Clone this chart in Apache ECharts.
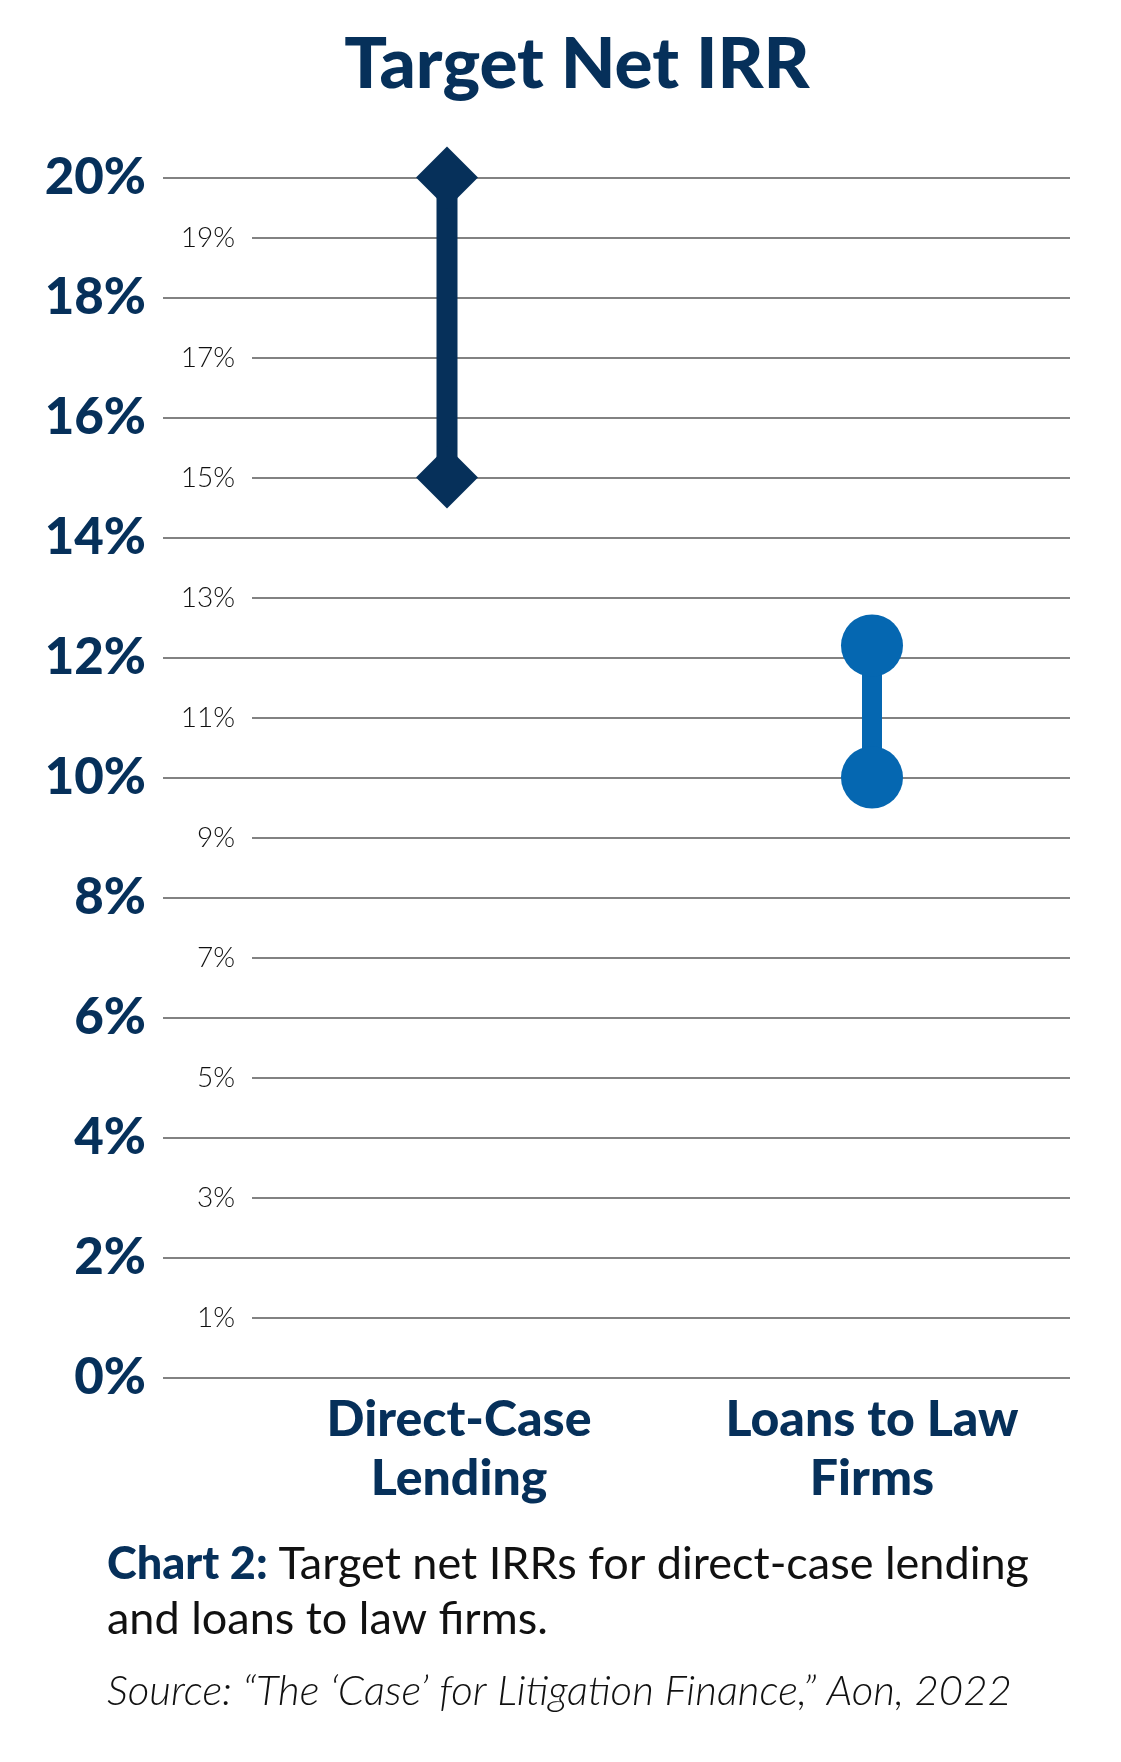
<!DOCTYPE html>
<html>
<head>
<meta charset="utf-8">
<script src="https://cdn.jsdelivr.net/npm/echarts@6/dist/echarts.min.js"></script>
<style>
  html, body { margin: 0; padding: 0; background: #fff; }
  #chart { width: 1121px; height: 1762px; }
</style>
</head>
<body>
<div id="chart"></div>
<script>
// data
const categories = ["Direct-Case\nLending", "Loans to Law\nFirms"];
const directCaseRange = [15, 20];
const lawFirmRange = [10, 12.2];
const majorTicks = [0, 2, 4, 6, 8, 10, 12, 14, 16, 18, 20];
const minorTicks = [1, 3, 5, 7, 9, 11, 13, 15, 17, 19];

const navy = "#06305a";
const blue = "#0567b1";
const gridGray = "#828282";
const font = "Lato";

const chart = echarts.init(document.getElementById("chart"));

const plotTop = 177.5;
const plotBottom = 1762 - 1377.5;

const option = {
  animation: false,
  backgroundColor: "#fff",
  title: {
    text: "Target Net IRR",
    left: 572,
    top: 25,
    textAlign: "center",
    textStyle: {
      fontFamily: font,
      fontWeight: 900,
      fontSize: 71,
      color: navy,
    },
  },
  grid: [
    // major lines (even %)
    { left: 163, right: 51, top: plotTop, bottom: plotBottom },
    // minor lines (odd %)
    { left: 252, right: 51, top: plotTop, bottom: plotBottom },
    // the ranges
    { left: 234.5, right: 36.5, top: plotTop, bottom: plotBottom },
  ],
  xAxis: [
    { gridIndex: 0, type: "value", show: false },
    { gridIndex: 1, type: "value", show: false },
    {
      gridIndex: 2,
      type: "category",
      data: categories.map((c, i) =>
        i === 0 ? { value: c, textStyle: { padding: [0, 0, 0, 24] } } : c
      ),
      axisLine: { show: false },
      axisTick: { show: false },
      axisLabel: {
        interval: 0,
        margin: 13,
        fontFamily: font,
        fontWeight: 900,
        fontSize: 50,
        lineHeight: 59,
        color: navy,
      },
    },
  ],
  yAxis: [
    {
      gridIndex: 0,
      type: "value",
      min: 0,
      max: 20,
      interval: 2,
      axisLine: { show: false },
      axisTick: { show: false },
      axisLabel: {
        margin: 17,
        formatter: (v) => (majorTicks.includes(v) ? v + "%" : ""),
        fontFamily: font,
        fontWeight: 900,
        fontSize: 51,
        color: navy,
      },
      splitLine: { lineStyle: { color: gridGray, width: 2 } },
    },
    {
      gridIndex: 1,
      type: "value",
      min: 0,
      max: 20,
      interval: 1,
      axisLine: { show: false },
      axisTick: { show: false },
      axisLabel: {
        margin: 17,
        formatter: (v) => (minorTicks.includes(v) ? v + "%" : ""),
        fontFamily: font,
        fontWeight: 300,
        fontSize: 28,
        color: "#111",
      },
      splitLine: {
        lineStyle: { color: ["rgba(0,0,0,0)", gridGray], width: 2 },
      },
    },
    { gridIndex: 2, type: "value", min: 0, max: 20, show: false },
  ],
  series: [
    {
      type: "line",
      xAxisIndex: 2,
      yAxisIndex: 2,
      data: directCaseRange.map((v) => [0, v]),
      symbol: "diamond",
      symbolSize: 62,
      itemStyle: { color: navy },
      lineStyle: { color: navy, width: 21 },
      z: 5,
    },
    {
      type: "line",
      xAxisIndex: 2,
      yAxisIndex: 2,
      data: lawFirmRange.map((v) => [1, v]),
      symbol: "circle",
      symbolSize: 62,
      itemStyle: { color: blue },
      lineStyle: { color: blue, width: 20 },
      z: 5,
    },
  ],
  graphic: [
    {
      type: "text",
      left: 107,
      top: 1542,
      style: {
        text:
          "{b|Chart 2: }{r|Target net IRRs for direct-case lending}\n{r|and loans to law firms.}",
        rich: {
          b: {
            fontFamily: font,
            fontWeight: 900,
            fontSize: 45,
            lineHeight: 55,
            fill: navy,
          },
          r: {
            fontFamily: font,
            fontWeight: 400,
            fontSize: 45,
            lineHeight: 55,
            fill: "#111",
          },
        },
      },
    },
    {
      type: "text",
      left: 107,
      top: 1670,
      style: {
        text: "Source: \u201cThe \u2018Case\u2019 for Litigation Finance,\u201d Aon, 2022",
        fontFamily: font,
        fontStyle: "italic",
        fontWeight: 300,
        fontSize: 42,
        fill: "#111",
      },
    },
  ],
};

chart.setOption(option);
</script>
</body>
</html>
